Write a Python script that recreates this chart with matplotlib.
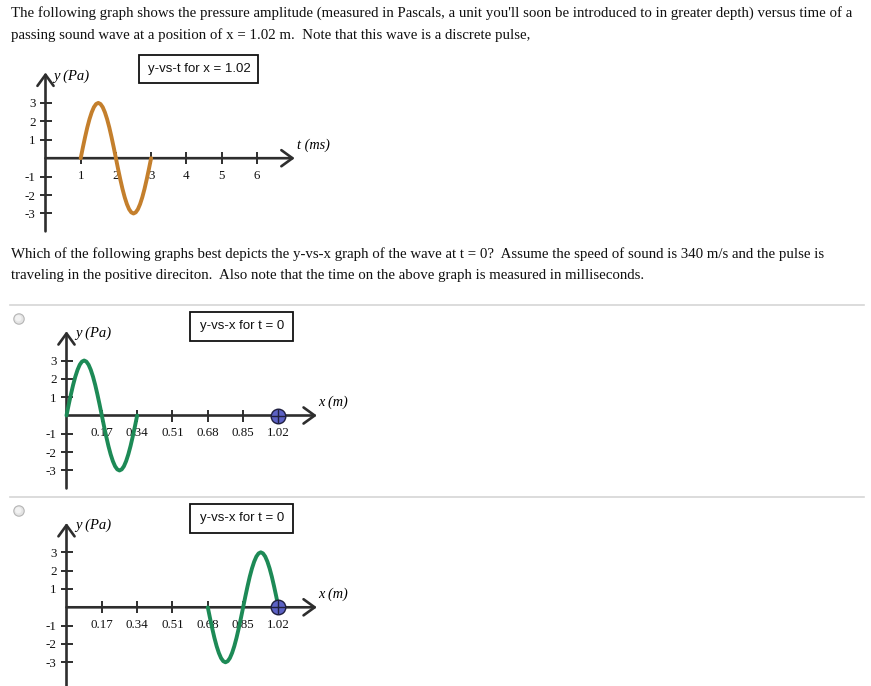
import matplotlib
matplotlib.use("Agg")
import matplotlib.pyplot as plt
from matplotlib.patches import Rectangle, Circle

# ---------------- data ----------------
# top graph: pressure vs time at x = 1.02 m
t_ms = [1.0, 1.0625, 1.125, 1.1875, 1.25, 1.3125, 1.375, 1.4375, 1.5, 1.5625, 1.625, 1.6875,
        1.75, 1.8125, 1.875, 1.9375, 2.0, 2.0625, 2.125, 2.1875, 2.25, 2.3125, 2.375, 2.4375,
        2.5, 2.5625, 2.625, 2.6875, 2.75, 2.8125, 2.875, 2.9375, 3.0]
p_t = [0.0, 0.59, 1.15, 1.67, 2.12, 2.49, 2.77, 2.94, 3.0, 2.94, 2.77, 2.49, 2.12, 1.67, 1.15, 0.59,
       0.0, -0.59, -1.15, -1.67, -2.12, -2.49, -2.77, -2.94, -3.0, -2.94, -2.77, -2.49, -2.12,
       -1.67, -1.15, -0.59, 0.0]
t_ticks = [1, 2, 3, 4, 5, 6]
t_ticklabels = ["1", "2", "3", "4", "5", "6"]

# option A: pulse near x = 0
x_a = [0.0, 0.010625, 0.02125, 0.031875, 0.0425, 0.053125, 0.06375, 0.074375, 0.085, 0.095625,
       0.10625, 0.116875, 0.1275, 0.138125, 0.14875, 0.159375, 0.17, 0.180625, 0.19125, 0.201875,
       0.2125, 0.223125, 0.23375, 0.244375, 0.255, 0.265625, 0.27625, 0.286875, 0.2975, 0.308125,
       0.31875, 0.329375, 0.34]
p_a = [0.0, 0.59, 1.15, 1.67, 2.12, 2.49, 2.77, 2.94, 3.0, 2.94, 2.77, 2.49, 2.12, 1.67, 1.15, 0.59,
       0.0, -0.59, -1.15, -1.67, -2.12, -2.49, -2.77, -2.94, -3.0, -2.94, -2.77, -2.49, -2.12,
       -1.67, -1.15, -0.59, 0.0]

# option B: pulse near x = 1.02
x_b = [0.68, 0.690625, 0.70125, 0.711875, 0.7225, 0.733125, 0.74375, 0.754375, 0.765, 0.775625,
       0.78625, 0.796875, 0.8075, 0.818125, 0.82875, 0.839375, 0.85, 0.860625, 0.87125, 0.881875,
       0.8925, 0.903125, 0.91375, 0.924375, 0.935, 0.945625, 0.95625, 0.966875, 0.9775, 0.988125,
       0.99875, 1.009375, 1.02]
p_b = [0.0, -0.59, -1.15, -1.67, -2.12, -2.49, -2.77, -2.94, -3.0, -2.94, -2.77, -2.49, -2.12,
       -1.67, -1.15, -0.59, 0.0, 0.59, 1.15, 1.67, 2.12, 2.49, 2.77, 2.94, 3.0, 2.94, 2.77, 2.49,
       2.12, 1.67, 1.15, 0.59, 0.0]

x_ticks = [0.17, 0.34, 0.51, 0.68, 0.85, 1.02]
x_ticklabels = ["0.17", "0.34", "0.51", "0.68", "0.85", "1.02"]
y_ticks = [-3, -2, -1, 1, 2, 3]
y_ticklabels = ["-3", "-2", "-1", "1", "2", "3"]
marker_x = [1.02]
marker_y = [0.0]

line1 = ("The following graph shows the pressure amplitude (measured in Pascals, a unit you'll "
         "soon be introduced to in greater depth) versus time of a")
line2 = "passing sound wave at a position of x = 1.02 m.  Note that this wave is a discrete pulse,"
line3 = ("Which of the following graphs best depicts the y-vs-x graph of the wave at t = 0?  Assume "
         "the speed of sound is 340 m/s and the pulse is")
line4 = ("traveling in the positive direciton.  Also note that the time on the above graph is "
         "measured in milliseconds.")

# ---------------- layout ----------------
W, H = 871, 686
SERIF = "Liberation Serif"
SANS = "Liberation Sans"
AXC = "#2e2e2e"
ORANGE = "#c47f2c"
GREEN = "#1d8a56"

fig = plt.figure(figsize=(W / 100, H / 100), dpi=100)
fig.patch.set_facecolor("white")

bg = fig.add_axes([0, 0, 1, 1])
bg.set_xlim(0, W)
bg.set_ylim(H, 0)
bg.axis("off")

# body text, size fitted to the first line's width
fig.canvas.draw()
r = fig.canvas.get_renderer()
probe = bg.text(12, 14, line1, family=SERIF, fontsize=10, va="center", ha="left")
w = probe.get_window_extent(r).width
probe.remove()
fs = 10 * 843 / w

for y, s in [(13, line1), (35, line2), (254, line3), (276, line4)]:
    bg.text(11, y, s, family=SERIF, fontsize=fs, va="center", ha="left", color="#111111")

# separators
for y in [305, 497]:
    bg.plot([10, 864], [y, y], color="#d6d6d6", lw=1.2)

# radio buttons
for y in [319, 511]:
    bg.add_patch(Circle((19, y), 5.2, facecolor="#e4e4e4", edgecolor="#b5b5b5", lw=0.8))
    bg.add_patch(Circle((18.3, y - 0.7), 3.2, facecolor="#f2f2f2", edgecolor="none"))

# title boxes
for (x0, y0, x1, y1, s) in [(139, 55, 258, 83, "y-vs-t for x = 1.02"),
                            (190, 312, 293, 341, "y-vs-x for t = 0"),
                            (190, 504, 293, 533, "y-vs-x for t = 0")]:
    bg.add_patch(Rectangle((x0, y0), x1 - x0, y1 - y0, facecolor="white",
                           edgecolor="#111111", lw=1.3))
    bg.text((x0 + x1) / 2 + 1, (y0 + y1) / 2, s, family=SANS, fontsize=9.5,
            ha="center", va="center", color="#111111")


def make_ax(ox, oy, sx, sy, xlim, ylim):
    left = ox + xlim[0] * sx
    right = ox + xlim[1] * sx
    top = oy - ylim[1] * sy
    bottom = oy - ylim[0] * sy
    ax = fig.add_axes([left / W, 1 - bottom / H, (right - left) / W, (bottom - top) / H])
    ax.set_xlim(xlim)
    ax.set_ylim(ylim)
    ax.patch.set_visible(False)
    for sp in ax.spines.values():
        sp.set_visible(False)
    ax.spines["left"].set_position(("data", 0))
    ax.spines["bottom"].set_position(("data", 0))
    ax.tick_params(direction="inout", length=8.5, width=1.4, color=AXC,
                   labelsize=9.4, labelcolor="#111111")
    ax.tick_params(axis="x", pad=4.0)
    ax.tick_params(axis="y", pad=3.0)
    ax.yaxis.set_ticks_position("left")
    ax.xaxis.set_ticks_position("bottom")
    ax.set_yticks(y_ticks)
    ax.set_yticklabels(y_ticklabels, family=SERIF)
    return ax


def draw_axes_lines(ax, xtip, ytop, ybot):
    arrow = dict(arrowstyle="->,head_length=0.8,head_width=0.58", color=AXC, lw=1.9,
                 mutation_scale=10, shrinkA=0, shrinkB=0)
    ax.annotate("", xy=(xtip, 0), xytext=(0, 0), arrowprops=arrow,
                annotation_clip=False, zorder=2)
    ax.annotate("", xy=(0, ytop), xytext=(0, ybot), arrowprops=arrow,
                annotation_clip=False, zorder=2)


# ---- top graph ----
ax1 = make_ax(45.5, 158.2, 35.2, 18.43, (-1.3, 8.6), (-4.2, 5.0))
ax1.set_xticks(t_ticks)
ax1.set_xticklabels(t_ticklabels, family=SERIF)
draw_axes_lines(ax1, 7.08, 4.65, -3.97)
ax1.plot(t_ms, p_t, color=ORANGE, lw=2.8, solid_capstyle="round", solid_joinstyle="round", zorder=4)
ax1.text(0.22, 4.45, "y (Pa)", family=SERIF, style="italic", fontsize=10.5, ha="left", va="center")
ax1.text(7.15, 0.7, "t (ms)", family=SERIF, style="italic", fontsize=10.3, ha="left", va="center")

# ---- option graphs ----
for oy, xs, ps in [(415.5, x_a, p_a), (607.3, x_b, p_b)]:
    ax = make_ax(66.5, oy, 207.8, 18.33, (-0.33, 1.45), (-4.6, 5.0))
    ax.set_xticks(x_ticks)
    ax.set_xticklabels(x_ticklabels, family=SERIF)
    draw_axes_lines(ax, 1.205, 4.6, -4.45 if oy > 500 else -3.98)
    ax.plot(xs, ps, color=GREEN, lw=2.8, solid_capstyle="round", solid_joinstyle="round", zorder=4)
    ax.plot(marker_x, marker_y, "o", ms=10.5, mfc="#5c61c4", mec="#1f1f3f", mew=1.0, zorder=5)
    ax.plot(marker_x, marker_y, "+", ms=10.5, mec="#1f1f3f", mew=1.0, zorder=6)
    ax.text(0.04, 4.5, "y (Pa)", family=SERIF, style="italic", fontsize=10.5, ha="left", va="center")
    ax.text(1.21, 0.7, "x (m)", family=SERIF, style="italic", fontsize=10.3, ha="left", va="center")

fig.savefig("out.png", dpi=100)
